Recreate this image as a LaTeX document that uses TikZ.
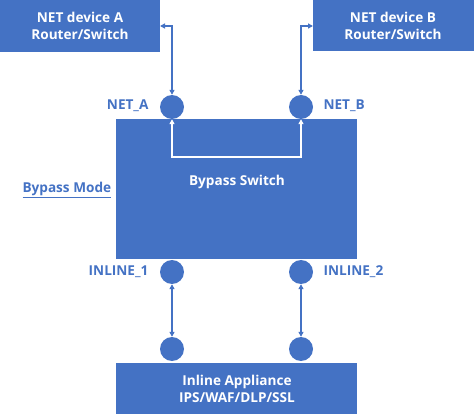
\documentclass[tikz,border=0pt]{standalone}
\usepackage{fontspec}
\setmainfont{Open Sans}
\usetikzlibrary{arrows.meta}
\definecolor{mblue}{HTML}{4472C4}
\tikzset{
  blk/.style={fill=mblue, draw=none, inner sep=0pt},
  port/.style={circle, fill=mblue, draw=none, minimum size=24pt, inner sep=0pt},
  conn/.style={draw=mblue, line width=1.4pt, {Triangle[length=5pt,width=5pt]}-{Triangle[length=5pt,width=5pt]}},
  wconn/.style={draw=white, line width=1.4pt, -{Triangle[length=5pt,width=5pt]}},
  wtxt/.style={text=white, font=\bfseries\fontsize{13.6}{17}\selectfont, align=center},
  btxt/.style={text=mblue, font=\bfseries\fontsize{13.6}{17}\selectfont},
}
\begin{document}
\begin{tikzpicture}[x=1pt,y=-1pt]
\useasboundingbox (0,0) rectangle (474,414);
% boxes
\fill[mblue] (0,0) rectangle (160,52);
\node[wtxt] (devA) at (80,26) {NET device A\\Router/Switch};
\coordinate (devAr) at (160,26);
\fill[mblue] (313,0) rectangle (474,51);
\node[wtxt] (devB) at (393,26) {NET device B\\Router/Switch};
\coordinate (devBl) at (313,26);
\fill[mblue] (116,119) rectangle (357,259);
\node[wtxt] (sw) at (237,182) {Bypass Switch};
\fill[mblue] (116,363) rectangle (357,414);
\node[wtxt] (app) at (237,389) {Inline Appliance\\IPS/WAF/DLP/SSL};
% ports
\node[port] (na) at (172,107) {};
\node[port] (nb) at (301,107) {};
\node[port] (i1) at (172,272) {};
\node[port] (i2) at (301,272) {};
\node[port] (a1) at (172,349) {};
\node[port] (a2) at (301,349) {};
% labels
\node[btxt, anchor=east] (lna) at (152,106) {NET\_A};
\node[btxt, anchor=west] (lnb) at (320,106) {NET\_B};
\node[btxt, anchor=east] (li1) at (152,272) {INLINE\_1};
\node[btxt, anchor=west] (li2) at (320,272) {INLINE\_2};
\node[btxt, anchor=west] (mode) at (19,190) {\underline{Bypass Mode}};
% connectors
\draw[conn] (devAr) -| (na.north);
\draw[conn] (devBl) -| (nb.north);
\draw[conn] (i1.south) -- (a1.north);
\draw[conn] (i2.south) -- (a2.north);
\coordinate (wl) at (172,157);
\coordinate (wr) at (301,157);
\draw[wconn] (wr) -- (wl) -- (na.south);
\draw[wconn] (wl) -- (wr) -- (nb.south);
\end{tikzpicture}
\end{document}
